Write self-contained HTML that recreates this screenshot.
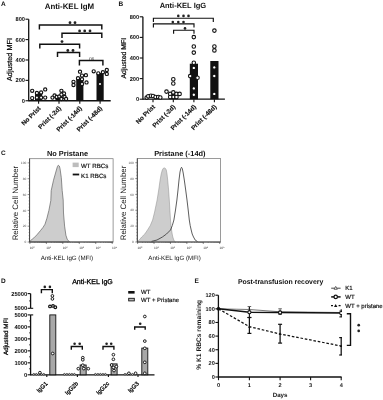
<!DOCTYPE html>
<html><head><meta charset="utf-8"><style>
html,body{margin:0;padding:0;background:#fff;width:383px;height:400px;overflow:hidden}
svg{display:block}
text{font-family:"Liberation Sans", Arial, Helvetica, sans-serif;text-rendering:geometricPrecision}
</style></head><body>
<svg width="383" height="400" viewBox="0 0 383 400">
<rect width="383" height="400" fill="#fff"/>
<text x="0.90" y="5.75" font-size="6.5" text-anchor="start" font-weight="bold" fill="#111" >A</text>
<text x="118.40" y="5.75" font-size="6.5" text-anchor="start" font-weight="bold" fill="#111" >B</text>
<text x="0.90" y="154.90" font-size="6.5" text-anchor="start" font-weight="bold" fill="#111" >C</text>
<text x="0.90" y="282.60" font-size="6.5" text-anchor="start" font-weight="bold" fill="#111" >D</text>
<text x="194.60" y="282.60" font-size="6.5" text-anchor="start" font-weight="bold" fill="#111" >E</text>
<text x="69.40" y="9.10" font-size="7.9" text-anchor="middle" font-weight="bold" fill="#111" >Anti-KEL IgM</text>
<text x="0.00" y="0.00" font-size="7.3" text-anchor="middle" font-weight="normal" fill="#000" stroke="#000" stroke-width="0.2" transform="translate(11.9,59.5) rotate(-90)">Adjusted MFI</text>
<line x1="28.70" y1="19.20" x2="28.70" y2="101.35" stroke="#111" stroke-width="1.3" />
<line x1="28.70" y1="100.75" x2="110.70" y2="100.75" stroke="#111" stroke-width="1.3" />
<line x1="25.50" y1="100.75" x2="28.70" y2="100.75" stroke="#111" stroke-width="1.1" />
<text x="25.00" y="102.80" font-size="5.7" text-anchor="end" font-weight="bold" fill="#111" >0</text>
<line x1="25.50" y1="80.36" x2="28.70" y2="80.36" stroke="#111" stroke-width="1.1" />
<text x="25.00" y="82.41" font-size="5.7" text-anchor="end" font-weight="bold" fill="#111" >200</text>
<line x1="25.50" y1="59.98" x2="28.70" y2="59.98" stroke="#111" stroke-width="1.1" />
<text x="25.00" y="62.02" font-size="5.7" text-anchor="end" font-weight="bold" fill="#111" >400</text>
<line x1="25.50" y1="39.59" x2="28.70" y2="39.59" stroke="#111" stroke-width="1.1" />
<text x="25.00" y="41.64" font-size="5.7" text-anchor="end" font-weight="bold" fill="#111" >600</text>
<line x1="25.50" y1="19.20" x2="28.70" y2="19.20" stroke="#111" stroke-width="1.1" />
<text x="25.00" y="21.25" font-size="5.7" text-anchor="end" font-weight="bold" fill="#111" >800</text>
<line x1="38.60" y1="100.75" x2="38.60" y2="103.75" stroke="#111" stroke-width="1.1" />
<line x1="59.00" y1="100.75" x2="59.00" y2="103.75" stroke="#111" stroke-width="1.1" />
<line x1="79.80" y1="100.75" x2="79.80" y2="103.75" stroke="#111" stroke-width="1.1" />
<line x1="100.10" y1="100.75" x2="100.10" y2="103.75" stroke="#111" stroke-width="1.1" />
<rect x="35.00" y="92.00" width="7.20" height="8.75" fill="#111" stroke="none" stroke-width="0"/>
<rect x="55.40" y="96.20" width="7.20" height="4.55" fill="#111" stroke="none" stroke-width="0"/>
<rect x="76.20" y="78.80" width="7.20" height="21.95" fill="#111" stroke="none" stroke-width="0"/>
<rect x="96.50" y="73.00" width="7.20" height="27.75" fill="#111" stroke="none" stroke-width="0"/>
<circle cx="32.20" cy="90.80" r="1.6" fill="#fff" stroke="#111" stroke-width="1.15"/>
<circle cx="36.90" cy="92.90" r="1.6" fill="#fff" stroke="#111" stroke-width="1.15"/>
<circle cx="41.10" cy="92.40" r="1.6" fill="#fff" stroke="#111" stroke-width="1.15"/>
<circle cx="45.20" cy="89.40" r="1.6" fill="#fff" stroke="#111" stroke-width="1.15"/>
<circle cx="32.20" cy="98.10" r="1.6" fill="#fff" stroke="#111" stroke-width="1.15"/>
<circle cx="36.90" cy="97.60" r="1.6" fill="#fff" stroke="#111" stroke-width="1.15"/>
<circle cx="41.10" cy="97.60" r="1.6" fill="#fff" stroke="#111" stroke-width="1.15"/>
<circle cx="45.20" cy="97.60" r="1.6" fill="#fff" stroke="#111" stroke-width="1.15"/>
<circle cx="52.50" cy="97.60" r="1.6" fill="#fff" stroke="#111" stroke-width="1.15"/>
<circle cx="54.60" cy="95.50" r="1.6" fill="#fff" stroke="#111" stroke-width="1.15"/>
<circle cx="56.70" cy="97.00" r="1.6" fill="#fff" stroke="#111" stroke-width="1.15"/>
<circle cx="59.30" cy="96.50" r="1.6" fill="#fff" stroke="#111" stroke-width="1.15"/>
<circle cx="61.40" cy="90.80" r="1.6" fill="#fff" stroke="#111" stroke-width="1.15"/>
<circle cx="64.00" cy="93.40" r="1.6" fill="#fff" stroke="#111" stroke-width="1.15"/>
<circle cx="61.40" cy="94.60" r="1.6" fill="#fff" stroke="#111" stroke-width="1.15"/>
<circle cx="61.40" cy="99.00" r="1.6" fill="#fff" stroke="#111" stroke-width="1.15"/>
<circle cx="64.60" cy="97.00" r="1.6" fill="#fff" stroke="#111" stroke-width="1.15"/>
<circle cx="66.10" cy="99.00" r="1.6" fill="#fff" stroke="#111" stroke-width="1.15"/>
<circle cx="80.00" cy="71.70" r="1.6" fill="#fff" stroke="#111" stroke-width="1.15"/>
<circle cx="85.90" cy="75.20" r="1.6" fill="#fff" stroke="#111" stroke-width="1.15"/>
<circle cx="82.00" cy="75.60" r="1.6" fill="#fff" stroke="#111" stroke-width="1.15"/>
<circle cx="78.00" cy="78.20" r="1.6" fill="#fff" stroke="#111" stroke-width="1.15"/>
<circle cx="82.00" cy="79.20" r="1.6" fill="#fff" stroke="#111" stroke-width="1.15"/>
<circle cx="73.50" cy="81.80" r="1.6" fill="#fff" stroke="#111" stroke-width="1.15"/>
<circle cx="86.50" cy="82.40" r="1.6" fill="#fff" stroke="#111" stroke-width="1.15"/>
<circle cx="82.00" cy="84.00" r="1.6" fill="#fff" stroke="#111" stroke-width="1.15"/>
<circle cx="73.50" cy="85.00" r="1.6" fill="#fff" stroke="#111" stroke-width="1.15"/>
<circle cx="93.70" cy="71.30" r="1.6" fill="#fff" stroke="#111" stroke-width="1.15"/>
<circle cx="98.30" cy="73.30" r="1.6" fill="#fff" stroke="#111" stroke-width="1.15"/>
<circle cx="102.90" cy="72.20" r="1.6" fill="#fff" stroke="#111" stroke-width="1.15"/>
<circle cx="106.80" cy="70.00" r="1.6" fill="#fff" stroke="#111" stroke-width="1.15"/>
<circle cx="106.80" cy="73.90" r="1.6" fill="#fff" stroke="#111" stroke-width="1.15"/>
<circle cx="100.00" cy="84.00" r="1.6" fill="#fff" stroke="#111" stroke-width="1.15"/>
<polyline points="39.40,29.60 39.40,25.00 101.80,25.00 101.80,29.60" stroke="#111" stroke-width="1.45" fill="none" />
<circle cx="70.00" cy="22.70" r="1.4" fill="#222" stroke="none" stroke-width="0"/>
<circle cx="75.00" cy="22.70" r="1.4" fill="#222" stroke="none" stroke-width="0"/>
<polyline points="62.00,37.90 62.00,33.20 101.80,33.20 101.80,37.90" stroke="#111" stroke-width="1.45" fill="none" />
<circle cx="79.60" cy="30.90" r="1.4" fill="#222" stroke="none" stroke-width="0"/>
<circle cx="84.70" cy="30.90" r="1.4" fill="#222" stroke="none" stroke-width="0"/>
<circle cx="90.00" cy="30.90" r="1.4" fill="#222" stroke="none" stroke-width="0"/>
<polyline points="39.80,48.50 39.80,44.20 79.60,44.20 79.60,48.50" stroke="#111" stroke-width="1.45" fill="none" />
<circle cx="62.00" cy="41.60" r="1.4" fill="#222" stroke="none" stroke-width="0"/>
<polyline points="57.50,57.00 57.50,52.40 79.60,52.40 79.60,57.00" stroke="#111" stroke-width="1.45" fill="none" />
<circle cx="67.80" cy="50.50" r="1.4" fill="#222" stroke="none" stroke-width="0"/>
<circle cx="73.00" cy="50.50" r="1.4" fill="#222" stroke="none" stroke-width="0"/>
<polyline points="79.40,65.40 79.40,60.50 102.90,60.50 102.90,65.40" stroke="#111" stroke-width="1.45" fill="none" />
<text x="91.70" y="60.00" font-size="4.8" text-anchor="middle" font-weight="normal" fill="#333" >ns</text>
<text x="0.00" y="0.00" font-size="6.3" text-anchor="end" font-weight="bold" fill="#111" stroke="#111" stroke-width="0.15" transform="translate(41.10,108.75) rotate(-45)">No Prist</text>
<text x="0.00" y="0.00" font-size="6.3" text-anchor="end" font-weight="bold" fill="#111" stroke="#111" stroke-width="0.15" transform="translate(61.50,108.75) rotate(-45)">Prist (-2d)</text>
<text x="0.00" y="0.00" font-size="6.3" text-anchor="end" font-weight="bold" fill="#111" stroke="#111" stroke-width="0.15" transform="translate(82.30,108.75) rotate(-45)">Prist (-14d)</text>
<text x="0.00" y="0.00" font-size="6.3" text-anchor="end" font-weight="bold" fill="#111" stroke="#111" stroke-width="0.15" transform="translate(102.60,108.75) rotate(-45)">Prist (-48d)</text>
<text x="182.90" y="7.60" font-size="7.5" text-anchor="middle" font-weight="bold" fill="#111" >Anti-KEL IgG</text>
<text x="0.00" y="0.00" font-size="6.9" text-anchor="middle" font-weight="normal" fill="#000" stroke="#000" stroke-width="0.2" transform="translate(126.0,58.2) rotate(-90)">Adjusted MFI</text>
<line x1="142.90" y1="16.80" x2="142.90" y2="99.80" stroke="#111" stroke-width="1.3" />
<line x1="142.90" y1="99.20" x2="224.90" y2="99.20" stroke="#111" stroke-width="1.3" />
<line x1="139.70" y1="99.20" x2="142.90" y2="99.20" stroke="#111" stroke-width="1.1" />
<text x="139.20" y="101.25" font-size="5.7" text-anchor="end" font-weight="bold" fill="#111" >0</text>
<line x1="139.70" y1="78.60" x2="142.90" y2="78.60" stroke="#111" stroke-width="1.1" />
<text x="139.20" y="80.65" font-size="5.7" text-anchor="end" font-weight="bold" fill="#111" >200</text>
<line x1="139.70" y1="58.00" x2="142.90" y2="58.00" stroke="#111" stroke-width="1.1" />
<text x="139.20" y="60.05" font-size="5.7" text-anchor="end" font-weight="bold" fill="#111" >400</text>
<line x1="139.70" y1="37.40" x2="142.90" y2="37.40" stroke="#111" stroke-width="1.1" />
<text x="139.20" y="39.45" font-size="5.7" text-anchor="end" font-weight="bold" fill="#111" >600</text>
<line x1="139.70" y1="16.80" x2="142.90" y2="16.80" stroke="#111" stroke-width="1.1" />
<text x="139.20" y="18.85" font-size="5.7" text-anchor="end" font-weight="bold" fill="#111" >800</text>
<line x1="153.00" y1="99.20" x2="153.00" y2="102.20" stroke="#111" stroke-width="1.1" />
<line x1="173.30" y1="99.20" x2="173.30" y2="102.20" stroke="#111" stroke-width="1.1" />
<line x1="193.90" y1="99.20" x2="193.90" y2="102.20" stroke="#111" stroke-width="1.1" />
<line x1="214.40" y1="99.20" x2="214.40" y2="102.20" stroke="#111" stroke-width="1.1" />
<rect x="148.90" y="99.00" width="8.20" height="0.20" fill="#111" stroke="none" stroke-width="0"/>
<rect x="169.20" y="93.50" width="8.20" height="5.70" fill="#111" stroke="none" stroke-width="0"/>
<rect x="189.80" y="63.70" width="8.20" height="35.50" fill="#111" stroke="none" stroke-width="0"/>
<rect x="210.30" y="61.00" width="8.20" height="38.20" fill="#111" stroke="none" stroke-width="0"/>
<circle cx="146.70" cy="97.60" r="1.75" fill="#fff" stroke="#111" stroke-width="1.1"/>
<circle cx="148.30" cy="96.20" r="1.75" fill="#fff" stroke="#111" stroke-width="1.1"/>
<circle cx="150.90" cy="95.80" r="1.75" fill="#fff" stroke="#111" stroke-width="1.1"/>
<circle cx="153.00" cy="96.00" r="1.75" fill="#fff" stroke="#111" stroke-width="1.1"/>
<circle cx="155.60" cy="97.00" r="1.75" fill="#fff" stroke="#111" stroke-width="1.1"/>
<circle cx="158.20" cy="97.00" r="1.75" fill="#fff" stroke="#111" stroke-width="1.1"/>
<circle cx="160.30" cy="97.50" r="1.75" fill="#fff" stroke="#111" stroke-width="1.1"/>
<circle cx="173.30" cy="79.30" r="1.75" fill="#fff" stroke="#111" stroke-width="1.1"/>
<circle cx="173.30" cy="83.50" r="1.75" fill="#fff" stroke="#111" stroke-width="1.1"/>
<circle cx="166.50" cy="91.60" r="1.75" fill="#fff" stroke="#111" stroke-width="1.1"/>
<circle cx="170.20" cy="93.90" r="1.75" fill="#fff" stroke="#111" stroke-width="1.1"/>
<circle cx="173.30" cy="92.40" r="1.75" fill="#fff" stroke="#111" stroke-width="1.1"/>
<circle cx="176.50" cy="93.90" r="1.75" fill="#fff" stroke="#111" stroke-width="1.1"/>
<circle cx="179.60" cy="93.90" r="1.75" fill="#fff" stroke="#111" stroke-width="1.1"/>
<circle cx="173.30" cy="97.00" r="1.75" fill="#fff" stroke="#111" stroke-width="1.1"/>
<circle cx="170.20" cy="97.00" r="1.75" fill="#fff" stroke="#111" stroke-width="1.1"/>
<circle cx="176.50" cy="97.00" r="1.75" fill="#fff" stroke="#111" stroke-width="1.1"/>
<circle cx="193.80" cy="37.10" r="1.75" fill="#fff" stroke="#111" stroke-width="1.1"/>
<circle cx="193.80" cy="46.50" r="1.75" fill="#fff" stroke="#111" stroke-width="1.1"/>
<circle cx="193.80" cy="52.60" r="1.75" fill="#fff" stroke="#111" stroke-width="1.1"/>
<circle cx="193.80" cy="62.80" r="1.75" fill="#fff" stroke="#111" stroke-width="1.1"/>
<circle cx="193.80" cy="67.90" r="1.75" fill="#fff" stroke="#111" stroke-width="1.1"/>
<circle cx="190.20" cy="76.10" r="1.75" fill="#fff" stroke="#111" stroke-width="1.1"/>
<circle cx="197.50" cy="77.80" r="1.75" fill="#fff" stroke="#111" stroke-width="1.1"/>
<circle cx="193.80" cy="88.40" r="1.75" fill="#fff" stroke="#111" stroke-width="1.1"/>
<circle cx="193.80" cy="94.80" r="1.75" fill="#fff" stroke="#111" stroke-width="1.1"/>
<circle cx="214.40" cy="30.60" r="1.75" fill="#fff" stroke="#111" stroke-width="1.1"/>
<circle cx="214.40" cy="46.50" r="1.75" fill="#fff" stroke="#111" stroke-width="1.1"/>
<circle cx="214.40" cy="50.40" r="1.75" fill="#fff" stroke="#111" stroke-width="1.1"/>
<circle cx="214.30" cy="67.40" r="1.75" fill="#fff" stroke="#111" stroke-width="1.1"/>
<circle cx="214.30" cy="76.00" r="1.75" fill="#fff" stroke="#111" stroke-width="1.1"/>
<circle cx="214.30" cy="93.90" r="1.75" fill="#fff" stroke="#111" stroke-width="1.1"/>
<polyline points="153.40,22.00 153.40,18.20 213.30,18.20 213.30,22.00" stroke="#111" stroke-width="1.15" fill="none" />
<circle cx="178.30" cy="15.90" r="1.3" fill="#222" stroke="none" stroke-width="0"/>
<circle cx="183.50" cy="15.90" r="1.3" fill="#222" stroke="none" stroke-width="0"/>
<circle cx="188.50" cy="15.90" r="1.3" fill="#222" stroke="none" stroke-width="0"/>
<polyline points="153.40,27.40 153.40,23.90 194.00,23.90 194.00,27.40" stroke="#111" stroke-width="1.15" fill="none" />
<circle cx="172.80" cy="22.10" r="1.3" fill="#222" stroke="none" stroke-width="0"/>
<circle cx="178.30" cy="22.10" r="1.3" fill="#222" stroke="none" stroke-width="0"/>
<circle cx="183.50" cy="22.10" r="1.3" fill="#222" stroke="none" stroke-width="0"/>
<polyline points="173.60,33.70 173.60,30.20 194.00,30.20 194.00,33.70" stroke="#111" stroke-width="1.15" fill="none" />
<circle cx="185.00" cy="28.40" r="1.3" fill="#222" stroke="none" stroke-width="0"/>
<text x="0.00" y="0.00" font-size="6.3" text-anchor="end" font-weight="bold" fill="#111" stroke="#111" stroke-width="0.15" transform="translate(155.50,107.20) rotate(-45)">No Prist</text>
<text x="0.00" y="0.00" font-size="6.3" text-anchor="end" font-weight="bold" fill="#111" stroke="#111" stroke-width="0.15" transform="translate(175.80,107.20) rotate(-45)">Prist (-2d)</text>
<text x="0.00" y="0.00" font-size="6.3" text-anchor="end" font-weight="bold" fill="#111" stroke="#111" stroke-width="0.15" transform="translate(196.40,107.20) rotate(-45)">Prist (-14d)</text>
<text x="0.00" y="0.00" font-size="6.3" text-anchor="end" font-weight="bold" fill="#111" stroke="#111" stroke-width="0.15" transform="translate(216.90,107.20) rotate(-45)">Prist (-48d)</text>
<rect x="29.60" y="158.70" width="83.50" height="83.30" fill="none" stroke="#7a7a7a" stroke-width="0.75"/>
<polygon points="29.70,241.80 30.60,240.50 33.90,237.90 37.10,234.60 40.40,230.70 43.00,227.40 45.00,224.20 46.90,218.30 48.90,210.40 50.80,200.50 51.20,190.60 53.50,180.20 56.10,171.00 57.40,166.60 58.30,165.20 59.30,166.00 60.00,168.40 61.30,177.60 62.20,190.60 63.20,200.00 63.50,213.00 64.60,226.10 65.90,235.20 67.20,239.20 69.10,241.50 69.50,241.80" fill="#cdcdcd" stroke="#5a5a5a" stroke-width="0.65"/>
<line x1="29.60" y1="158.70" x2="29.60" y2="242.00" stroke="#444" stroke-width="1.0" />
<line x1="29.60" y1="242.00" x2="113.10" y2="242.00" stroke="#444" stroke-width="1.0" />
<line x1="27.60" y1="242.00" x2="29.60" y2="242.00" stroke="#444" stroke-width="0.6" />
<text x="26.20" y="243.15" font-size="3.2" text-anchor="end" font-weight="normal" fill="#555" >0</text>
<line x1="28.60" y1="238.84" x2="29.60" y2="238.84" stroke="#444" stroke-width="0.45" />
<line x1="28.60" y1="235.67" x2="29.60" y2="235.67" stroke="#444" stroke-width="0.45" />
<line x1="28.60" y1="232.51" x2="29.60" y2="232.51" stroke="#444" stroke-width="0.45" />
<line x1="28.60" y1="229.34" x2="29.60" y2="229.34" stroke="#444" stroke-width="0.45" />
<line x1="27.60" y1="226.18" x2="29.60" y2="226.18" stroke="#444" stroke-width="0.6" />
<text x="26.20" y="227.33" font-size="3.2" text-anchor="end" font-weight="normal" fill="#555" >20</text>
<line x1="28.60" y1="223.02" x2="29.60" y2="223.02" stroke="#444" stroke-width="0.45" />
<line x1="28.60" y1="219.85" x2="29.60" y2="219.85" stroke="#444" stroke-width="0.45" />
<line x1="28.60" y1="216.69" x2="29.60" y2="216.69" stroke="#444" stroke-width="0.45" />
<line x1="28.60" y1="213.52" x2="29.60" y2="213.52" stroke="#444" stroke-width="0.45" />
<line x1="27.60" y1="210.36" x2="29.60" y2="210.36" stroke="#444" stroke-width="0.6" />
<text x="26.20" y="211.51" font-size="3.2" text-anchor="end" font-weight="normal" fill="#555" >40</text>
<line x1="28.60" y1="207.20" x2="29.60" y2="207.20" stroke="#444" stroke-width="0.45" />
<line x1="28.60" y1="204.03" x2="29.60" y2="204.03" stroke="#444" stroke-width="0.45" />
<line x1="28.60" y1="200.87" x2="29.60" y2="200.87" stroke="#444" stroke-width="0.45" />
<line x1="28.60" y1="197.70" x2="29.60" y2="197.70" stroke="#444" stroke-width="0.45" />
<line x1="27.60" y1="194.54" x2="29.60" y2="194.54" stroke="#444" stroke-width="0.6" />
<text x="26.20" y="195.69" font-size="3.2" text-anchor="end" font-weight="normal" fill="#555" >60</text>
<line x1="28.60" y1="191.38" x2="29.60" y2="191.38" stroke="#444" stroke-width="0.45" />
<line x1="28.60" y1="188.21" x2="29.60" y2="188.21" stroke="#444" stroke-width="0.45" />
<line x1="28.60" y1="185.05" x2="29.60" y2="185.05" stroke="#444" stroke-width="0.45" />
<line x1="28.60" y1="181.88" x2="29.60" y2="181.88" stroke="#444" stroke-width="0.45" />
<line x1="27.60" y1="178.72" x2="29.60" y2="178.72" stroke="#444" stroke-width="0.6" />
<text x="26.20" y="179.87" font-size="3.2" text-anchor="end" font-weight="normal" fill="#555" >80</text>
<line x1="28.60" y1="175.56" x2="29.60" y2="175.56" stroke="#444" stroke-width="0.45" />
<line x1="28.60" y1="172.39" x2="29.60" y2="172.39" stroke="#444" stroke-width="0.45" />
<line x1="28.60" y1="169.23" x2="29.60" y2="169.23" stroke="#444" stroke-width="0.45" />
<line x1="28.60" y1="166.06" x2="29.60" y2="166.06" stroke="#444" stroke-width="0.45" />
<line x1="27.60" y1="162.90" x2="29.60" y2="162.90" stroke="#444" stroke-width="0.6" />
<text x="26.20" y="164.05" font-size="3.2" text-anchor="end" font-weight="normal" fill="#555" >100</text>
<line x1="29.90" y1="242.00" x2="29.90" y2="243.90" stroke="#444" stroke-width="0.7" />
<text x="32.20" y="249.30" font-size="3.2" text-anchor="middle" font-weight="normal" fill="#333" >10<tspan font-size="2.3" dy="-1.6">0</tspan></text>
<line x1="34.85" y1="242.00" x2="34.85" y2="243.00" stroke="#555" stroke-width="0.45" />
<line x1="37.75" y1="242.00" x2="37.75" y2="243.00" stroke="#555" stroke-width="0.45" />
<line x1="39.81" y1="242.00" x2="39.81" y2="243.00" stroke="#555" stroke-width="0.45" />
<line x1="41.41" y1="242.00" x2="41.41" y2="243.00" stroke="#555" stroke-width="0.45" />
<line x1="42.71" y1="242.00" x2="42.71" y2="243.00" stroke="#555" stroke-width="0.45" />
<line x1="43.81" y1="242.00" x2="43.81" y2="243.00" stroke="#555" stroke-width="0.45" />
<line x1="44.76" y1="242.00" x2="44.76" y2="243.00" stroke="#555" stroke-width="0.45" />
<line x1="45.61" y1="242.00" x2="45.61" y2="243.00" stroke="#555" stroke-width="0.45" />
<line x1="46.36" y1="242.00" x2="46.36" y2="243.90" stroke="#444" stroke-width="0.7" />
<text x="48.66" y="249.30" font-size="3.2" text-anchor="middle" font-weight="normal" fill="#333" >10<tspan font-size="2.3" dy="-1.6">1</tspan></text>
<line x1="51.31" y1="242.00" x2="51.31" y2="243.00" stroke="#555" stroke-width="0.45" />
<line x1="54.21" y1="242.00" x2="54.21" y2="243.00" stroke="#555" stroke-width="0.45" />
<line x1="56.27" y1="242.00" x2="56.27" y2="243.00" stroke="#555" stroke-width="0.45" />
<line x1="57.87" y1="242.00" x2="57.87" y2="243.00" stroke="#555" stroke-width="0.45" />
<line x1="59.17" y1="242.00" x2="59.17" y2="243.00" stroke="#555" stroke-width="0.45" />
<line x1="60.27" y1="242.00" x2="60.27" y2="243.00" stroke="#555" stroke-width="0.45" />
<line x1="61.22" y1="242.00" x2="61.22" y2="243.00" stroke="#555" stroke-width="0.45" />
<line x1="62.07" y1="242.00" x2="62.07" y2="243.00" stroke="#555" stroke-width="0.45" />
<line x1="62.82" y1="242.00" x2="62.82" y2="243.90" stroke="#444" stroke-width="0.7" />
<text x="65.12" y="249.30" font-size="3.2" text-anchor="middle" font-weight="normal" fill="#333" >10<tspan font-size="2.3" dy="-1.6">2</tspan></text>
<line x1="67.77" y1="242.00" x2="67.77" y2="243.00" stroke="#555" stroke-width="0.45" />
<line x1="70.67" y1="242.00" x2="70.67" y2="243.00" stroke="#555" stroke-width="0.45" />
<line x1="72.73" y1="242.00" x2="72.73" y2="243.00" stroke="#555" stroke-width="0.45" />
<line x1="74.33" y1="242.00" x2="74.33" y2="243.00" stroke="#555" stroke-width="0.45" />
<line x1="75.63" y1="242.00" x2="75.63" y2="243.00" stroke="#555" stroke-width="0.45" />
<line x1="76.73" y1="242.00" x2="76.73" y2="243.00" stroke="#555" stroke-width="0.45" />
<line x1="77.68" y1="242.00" x2="77.68" y2="243.00" stroke="#555" stroke-width="0.45" />
<line x1="78.53" y1="242.00" x2="78.53" y2="243.00" stroke="#555" stroke-width="0.45" />
<line x1="79.28" y1="242.00" x2="79.28" y2="243.90" stroke="#444" stroke-width="0.7" />
<text x="81.58" y="249.30" font-size="3.2" text-anchor="middle" font-weight="normal" fill="#333" >10<tspan font-size="2.3" dy="-1.6">3</tspan></text>
<line x1="84.23" y1="242.00" x2="84.23" y2="243.00" stroke="#555" stroke-width="0.45" />
<line x1="87.13" y1="242.00" x2="87.13" y2="243.00" stroke="#555" stroke-width="0.45" />
<line x1="89.19" y1="242.00" x2="89.19" y2="243.00" stroke="#555" stroke-width="0.45" />
<line x1="90.79" y1="242.00" x2="90.79" y2="243.00" stroke="#555" stroke-width="0.45" />
<line x1="92.09" y1="242.00" x2="92.09" y2="243.00" stroke="#555" stroke-width="0.45" />
<line x1="93.19" y1="242.00" x2="93.19" y2="243.00" stroke="#555" stroke-width="0.45" />
<line x1="94.14" y1="242.00" x2="94.14" y2="243.00" stroke="#555" stroke-width="0.45" />
<line x1="94.99" y1="242.00" x2="94.99" y2="243.00" stroke="#555" stroke-width="0.45" />
<line x1="95.74" y1="242.00" x2="95.74" y2="243.90" stroke="#444" stroke-width="0.7" />
<text x="98.04" y="249.30" font-size="3.2" text-anchor="middle" font-weight="normal" fill="#333" >10<tspan font-size="2.3" dy="-1.6">4</tspan></text>
<line x1="100.69" y1="242.00" x2="100.69" y2="243.00" stroke="#555" stroke-width="0.45" />
<line x1="103.59" y1="242.00" x2="103.59" y2="243.00" stroke="#555" stroke-width="0.45" />
<line x1="105.65" y1="242.00" x2="105.65" y2="243.00" stroke="#555" stroke-width="0.45" />
<line x1="107.25" y1="242.00" x2="107.25" y2="243.00" stroke="#555" stroke-width="0.45" />
<line x1="108.55" y1="242.00" x2="108.55" y2="243.00" stroke="#555" stroke-width="0.45" />
<line x1="109.65" y1="242.00" x2="109.65" y2="243.00" stroke="#555" stroke-width="0.45" />
<line x1="110.60" y1="242.00" x2="110.60" y2="243.00" stroke="#555" stroke-width="0.45" />
<line x1="111.45" y1="242.00" x2="111.45" y2="243.00" stroke="#555" stroke-width="0.45" />
<line x1="112.20" y1="242.00" x2="112.20" y2="243.90" stroke="#444" stroke-width="0.7" />
<text x="114.50" y="249.30" font-size="3.2" text-anchor="middle" font-weight="normal" fill="#333" >10<tspan font-size="2.3" dy="-1.6">5</tspan></text>
<text x="67.50" y="155.60" font-size="7.4" text-anchor="middle" font-weight="bold" fill="#111" >No Pristane</text>
<text x="0.00" y="0.00" font-size="7.9" text-anchor="middle" font-weight="normal" fill="#222" transform="translate(18.20,203.05) rotate(-90)">Relative Cell Number</text>
<text x="66.95" y="259.70" font-size="6.2" text-anchor="middle" font-weight="normal" fill="#111" >Anti-KEL IgG (MFI)</text>
<rect x="72.60" y="162.60" width="6.10" height="4.50" fill="#bdbdbd" stroke="none" stroke-width="0"/>
<text x="81.00" y="167.60" font-size="6.2" text-anchor="start" font-weight="normal" fill="#111" stroke="#111" stroke-width="0.18">WT RBCs</text>
<line x1="72.70" y1="174.50" x2="79.20" y2="174.50" stroke="#111" stroke-width="1.8" />
<text x="81.00" y="178.00" font-size="6.2" text-anchor="start" font-weight="normal" fill="#111" stroke="#111" stroke-width="0.18">K1 RBCs</text>
<rect x="137.30" y="158.50" width="83.30" height="83.50" fill="none" stroke="#7a7a7a" stroke-width="0.75"/>
<polygon points="137.30,241.80 139.00,240.20 141.70,237.00 144.80,234.00 147.50,230.00 150.30,225.50 152.60,220.00 154.60,212.00 157.10,200.00 158.70,190.00 160.10,180.00 161.20,174.00 162.30,170.00 163.40,168.20 164.40,167.90 165.40,168.40 166.30,170.00 167.00,174.00 167.70,180.00 168.60,190.00 169.30,200.00 169.90,210.00 170.50,220.00 171.00,225.50 171.60,230.00 172.20,234.00 172.80,237.00 173.80,240.00 175.00,241.80" fill="#cdcdcd" stroke="#8a8a8a" stroke-width="0.5"/>
<polyline points="151.50,241.40 157.00,240.00 162.40,237.00 166.50,234.00 170.50,230.00 172.30,225.50 173.90,220.00 175.50,210.00 176.90,200.00 178.00,190.00 179.00,180.00 180.00,172.00 180.80,168.60 181.50,167.30 182.30,168.60 183.20,173.00 184.30,180.00 185.70,190.00 187.00,200.00 188.20,210.00 189.30,220.00 190.20,225.50 191.20,230.00 192.20,234.00 193.50,237.00 195.30,240.20 197.50,241.50" stroke="#333" stroke-width="0.8" fill="none" />
<line x1="137.30" y1="158.50" x2="137.30" y2="242.00" stroke="#444" stroke-width="1.0" />
<line x1="137.30" y1="242.00" x2="220.60" y2="242.00" stroke="#444" stroke-width="1.0" />
<line x1="135.30" y1="242.00" x2="137.30" y2="242.00" stroke="#444" stroke-width="0.6" />
<text x="133.90" y="243.15" font-size="3.2" text-anchor="end" font-weight="normal" fill="#555" >0</text>
<line x1="136.30" y1="238.83" x2="137.30" y2="238.83" stroke="#444" stroke-width="0.45" />
<line x1="136.30" y1="235.66" x2="137.30" y2="235.66" stroke="#444" stroke-width="0.45" />
<line x1="136.30" y1="232.48" x2="137.30" y2="232.48" stroke="#444" stroke-width="0.45" />
<line x1="136.30" y1="229.31" x2="137.30" y2="229.31" stroke="#444" stroke-width="0.45" />
<line x1="135.30" y1="226.14" x2="137.30" y2="226.14" stroke="#444" stroke-width="0.6" />
<text x="133.90" y="227.29" font-size="3.2" text-anchor="end" font-weight="normal" fill="#555" >20</text>
<line x1="136.30" y1="222.97" x2="137.30" y2="222.97" stroke="#444" stroke-width="0.45" />
<line x1="136.30" y1="219.80" x2="137.30" y2="219.80" stroke="#444" stroke-width="0.45" />
<line x1="136.30" y1="216.62" x2="137.30" y2="216.62" stroke="#444" stroke-width="0.45" />
<line x1="136.30" y1="213.45" x2="137.30" y2="213.45" stroke="#444" stroke-width="0.45" />
<line x1="135.30" y1="210.28" x2="137.30" y2="210.28" stroke="#444" stroke-width="0.6" />
<text x="133.90" y="211.43" font-size="3.2" text-anchor="end" font-weight="normal" fill="#555" >40</text>
<line x1="136.30" y1="207.11" x2="137.30" y2="207.11" stroke="#444" stroke-width="0.45" />
<line x1="136.30" y1="203.94" x2="137.30" y2="203.94" stroke="#444" stroke-width="0.45" />
<line x1="136.30" y1="200.76" x2="137.30" y2="200.76" stroke="#444" stroke-width="0.45" />
<line x1="136.30" y1="197.59" x2="137.30" y2="197.59" stroke="#444" stroke-width="0.45" />
<line x1="135.30" y1="194.42" x2="137.30" y2="194.42" stroke="#444" stroke-width="0.6" />
<text x="133.90" y="195.57" font-size="3.2" text-anchor="end" font-weight="normal" fill="#555" >60</text>
<line x1="136.30" y1="191.25" x2="137.30" y2="191.25" stroke="#444" stroke-width="0.45" />
<line x1="136.30" y1="188.08" x2="137.30" y2="188.08" stroke="#444" stroke-width="0.45" />
<line x1="136.30" y1="184.90" x2="137.30" y2="184.90" stroke="#444" stroke-width="0.45" />
<line x1="136.30" y1="181.73" x2="137.30" y2="181.73" stroke="#444" stroke-width="0.45" />
<line x1="135.30" y1="178.56" x2="137.30" y2="178.56" stroke="#444" stroke-width="0.6" />
<text x="133.90" y="179.71" font-size="3.2" text-anchor="end" font-weight="normal" fill="#555" >80</text>
<line x1="136.30" y1="175.39" x2="137.30" y2="175.39" stroke="#444" stroke-width="0.45" />
<line x1="136.30" y1="172.22" x2="137.30" y2="172.22" stroke="#444" stroke-width="0.45" />
<line x1="136.30" y1="169.04" x2="137.30" y2="169.04" stroke="#444" stroke-width="0.45" />
<line x1="136.30" y1="165.87" x2="137.30" y2="165.87" stroke="#444" stroke-width="0.45" />
<line x1="135.30" y1="162.70" x2="137.30" y2="162.70" stroke="#444" stroke-width="0.6" />
<text x="133.90" y="163.85" font-size="3.2" text-anchor="end" font-weight="normal" fill="#555" >100</text>
<line x1="137.60" y1="242.00" x2="137.60" y2="243.90" stroke="#444" stroke-width="0.7" />
<text x="139.90" y="249.30" font-size="3.2" text-anchor="middle" font-weight="normal" fill="#333" >10<tspan font-size="2.3" dy="-1.6">0</tspan></text>
<line x1="142.54" y1="242.00" x2="142.54" y2="243.00" stroke="#555" stroke-width="0.45" />
<line x1="145.43" y1="242.00" x2="145.43" y2="243.00" stroke="#555" stroke-width="0.45" />
<line x1="147.49" y1="242.00" x2="147.49" y2="243.00" stroke="#555" stroke-width="0.45" />
<line x1="149.08" y1="242.00" x2="149.08" y2="243.00" stroke="#555" stroke-width="0.45" />
<line x1="150.38" y1="242.00" x2="150.38" y2="243.00" stroke="#555" stroke-width="0.45" />
<line x1="151.48" y1="242.00" x2="151.48" y2="243.00" stroke="#555" stroke-width="0.45" />
<line x1="152.43" y1="242.00" x2="152.43" y2="243.00" stroke="#555" stroke-width="0.45" />
<line x1="153.27" y1="242.00" x2="153.27" y2="243.00" stroke="#555" stroke-width="0.45" />
<line x1="154.02" y1="242.00" x2="154.02" y2="243.90" stroke="#444" stroke-width="0.7" />
<text x="156.32" y="249.30" font-size="3.2" text-anchor="middle" font-weight="normal" fill="#333" >10<tspan font-size="2.3" dy="-1.6">1</tspan></text>
<line x1="158.96" y1="242.00" x2="158.96" y2="243.00" stroke="#555" stroke-width="0.45" />
<line x1="161.85" y1="242.00" x2="161.85" y2="243.00" stroke="#555" stroke-width="0.45" />
<line x1="163.91" y1="242.00" x2="163.91" y2="243.00" stroke="#555" stroke-width="0.45" />
<line x1="165.50" y1="242.00" x2="165.50" y2="243.00" stroke="#555" stroke-width="0.45" />
<line x1="166.80" y1="242.00" x2="166.80" y2="243.00" stroke="#555" stroke-width="0.45" />
<line x1="167.90" y1="242.00" x2="167.90" y2="243.00" stroke="#555" stroke-width="0.45" />
<line x1="168.85" y1="242.00" x2="168.85" y2="243.00" stroke="#555" stroke-width="0.45" />
<line x1="169.69" y1="242.00" x2="169.69" y2="243.00" stroke="#555" stroke-width="0.45" />
<line x1="170.44" y1="242.00" x2="170.44" y2="243.90" stroke="#444" stroke-width="0.7" />
<text x="172.74" y="249.30" font-size="3.2" text-anchor="middle" font-weight="normal" fill="#333" >10<tspan font-size="2.3" dy="-1.6">2</tspan></text>
<line x1="175.38" y1="242.00" x2="175.38" y2="243.00" stroke="#555" stroke-width="0.45" />
<line x1="178.27" y1="242.00" x2="178.27" y2="243.00" stroke="#555" stroke-width="0.45" />
<line x1="180.33" y1="242.00" x2="180.33" y2="243.00" stroke="#555" stroke-width="0.45" />
<line x1="181.92" y1="242.00" x2="181.92" y2="243.00" stroke="#555" stroke-width="0.45" />
<line x1="183.22" y1="242.00" x2="183.22" y2="243.00" stroke="#555" stroke-width="0.45" />
<line x1="184.32" y1="242.00" x2="184.32" y2="243.00" stroke="#555" stroke-width="0.45" />
<line x1="185.27" y1="242.00" x2="185.27" y2="243.00" stroke="#555" stroke-width="0.45" />
<line x1="186.11" y1="242.00" x2="186.11" y2="243.00" stroke="#555" stroke-width="0.45" />
<line x1="186.86" y1="242.00" x2="186.86" y2="243.90" stroke="#444" stroke-width="0.7" />
<text x="189.16" y="249.30" font-size="3.2" text-anchor="middle" font-weight="normal" fill="#333" >10<tspan font-size="2.3" dy="-1.6">3</tspan></text>
<line x1="191.80" y1="242.00" x2="191.80" y2="243.00" stroke="#555" stroke-width="0.45" />
<line x1="194.69" y1="242.00" x2="194.69" y2="243.00" stroke="#555" stroke-width="0.45" />
<line x1="196.75" y1="242.00" x2="196.75" y2="243.00" stroke="#555" stroke-width="0.45" />
<line x1="198.34" y1="242.00" x2="198.34" y2="243.00" stroke="#555" stroke-width="0.45" />
<line x1="199.64" y1="242.00" x2="199.64" y2="243.00" stroke="#555" stroke-width="0.45" />
<line x1="200.74" y1="242.00" x2="200.74" y2="243.00" stroke="#555" stroke-width="0.45" />
<line x1="201.69" y1="242.00" x2="201.69" y2="243.00" stroke="#555" stroke-width="0.45" />
<line x1="202.53" y1="242.00" x2="202.53" y2="243.00" stroke="#555" stroke-width="0.45" />
<line x1="203.28" y1="242.00" x2="203.28" y2="243.90" stroke="#444" stroke-width="0.7" />
<text x="205.58" y="249.30" font-size="3.2" text-anchor="middle" font-weight="normal" fill="#333" >10<tspan font-size="2.3" dy="-1.6">4</tspan></text>
<line x1="208.22" y1="242.00" x2="208.22" y2="243.00" stroke="#555" stroke-width="0.45" />
<line x1="211.11" y1="242.00" x2="211.11" y2="243.00" stroke="#555" stroke-width="0.45" />
<line x1="213.17" y1="242.00" x2="213.17" y2="243.00" stroke="#555" stroke-width="0.45" />
<line x1="214.76" y1="242.00" x2="214.76" y2="243.00" stroke="#555" stroke-width="0.45" />
<line x1="216.06" y1="242.00" x2="216.06" y2="243.00" stroke="#555" stroke-width="0.45" />
<line x1="217.16" y1="242.00" x2="217.16" y2="243.00" stroke="#555" stroke-width="0.45" />
<line x1="218.11" y1="242.00" x2="218.11" y2="243.00" stroke="#555" stroke-width="0.45" />
<line x1="218.95" y1="242.00" x2="218.95" y2="243.00" stroke="#555" stroke-width="0.45" />
<line x1="219.70" y1="242.00" x2="219.70" y2="243.90" stroke="#444" stroke-width="0.7" />
<text x="222.00" y="249.30" font-size="3.2" text-anchor="middle" font-weight="normal" fill="#333" >10<tspan font-size="2.3" dy="-1.6">5</tspan></text>
<text x="179.80" y="155.60" font-size="7.4" text-anchor="middle" font-weight="bold" fill="#111" >Pristane (-14d)</text>
<text x="0.00" y="0.00" font-size="7.9" text-anchor="middle" font-weight="normal" fill="#222" transform="translate(125.90,202.95) rotate(-90)">Relative Cell Number</text>
<text x="174.55" y="259.70" font-size="6.2" text-anchor="middle" font-weight="normal" fill="#111" >Anti-KEL IgG (MFI)</text>
<text x="92.50" y="284.40" font-size="7.0" text-anchor="middle" font-weight="normal" fill="#000" stroke="#000" stroke-width="0.3">Anti-KEL IgG</text>
<text x="0.00" y="0.00" font-size="6.3" text-anchor="middle" font-weight="normal" fill="#000" stroke="#000" stroke-width="0.25" transform="translate(7.9,336.5) rotate(-90)">Adjusted MFI</text>
<line x1="30.60" y1="314.90" x2="30.60" y2="375.40" stroke="#111" stroke-width="1.3" />
<line x1="30.60" y1="374.80" x2="154.50" y2="374.80" stroke="#111" stroke-width="1.3" />
<line x1="27.60" y1="374.80" x2="30.60" y2="374.80" stroke="#111" stroke-width="1.1" />
<text x="27.30" y="376.85" font-size="5.8" text-anchor="end" font-weight="bold" fill="#111" >0</text>
<line x1="29.10" y1="368.81" x2="30.60" y2="368.81" stroke="#111" stroke-width="0.8" />
<line x1="27.60" y1="362.82" x2="30.60" y2="362.82" stroke="#111" stroke-width="1.1" />
<text x="27.30" y="364.87" font-size="5.8" text-anchor="end" font-weight="bold" fill="#111" >1000</text>
<line x1="29.10" y1="356.83" x2="30.60" y2="356.83" stroke="#111" stroke-width="0.8" />
<line x1="27.60" y1="350.84" x2="30.60" y2="350.84" stroke="#111" stroke-width="1.1" />
<text x="27.30" y="352.89" font-size="5.8" text-anchor="end" font-weight="bold" fill="#111" >2000</text>
<line x1="29.10" y1="344.85" x2="30.60" y2="344.85" stroke="#111" stroke-width="0.8" />
<line x1="27.60" y1="338.86" x2="30.60" y2="338.86" stroke="#111" stroke-width="1.1" />
<text x="27.30" y="340.91" font-size="5.8" text-anchor="end" font-weight="bold" fill="#111" >3000</text>
<line x1="29.10" y1="332.87" x2="30.60" y2="332.87" stroke="#111" stroke-width="0.8" />
<line x1="27.60" y1="326.88" x2="30.60" y2="326.88" stroke="#111" stroke-width="1.1" />
<text x="27.30" y="328.93" font-size="5.8" text-anchor="end" font-weight="bold" fill="#111" >4000</text>
<line x1="29.10" y1="320.89" x2="30.60" y2="320.89" stroke="#111" stroke-width="0.8" />
<line x1="27.60" y1="314.90" x2="30.60" y2="314.90" stroke="#111" stroke-width="1.1" />
<text x="27.30" y="316.95" font-size="5.8" text-anchor="end" font-weight="bold" fill="#111" >5000</text>
<line x1="30.60" y1="293.60" x2="30.60" y2="308.30" stroke="#111" stroke-width="1.3" />
<line x1="27.60" y1="293.60" x2="30.60" y2="293.60" stroke="#111" stroke-width="1.1" />
<text x="27.30" y="295.65" font-size="5.8" text-anchor="end" font-weight="bold" fill="#111" >25000</text>
<line x1="27.60" y1="308.30" x2="30.60" y2="308.30" stroke="#111" stroke-width="1.1" />
<text x="27.30" y="310.35" font-size="5.8" text-anchor="end" font-weight="bold" fill="#111" >5000</text>
<line x1="29.10" y1="300.90" x2="30.60" y2="300.90" stroke="#111" stroke-width="0.8" />
<line x1="30.60" y1="308.30" x2="33.20" y2="308.30" stroke="#111" stroke-width="1.1" />
<line x1="30.60" y1="314.90" x2="33.20" y2="314.90" stroke="#111" stroke-width="1.1" />
<line x1="46.80" y1="374.80" x2="46.80" y2="377.00" stroke="#111" stroke-width="1.1" />
<line x1="77.40" y1="374.80" x2="77.40" y2="377.00" stroke="#111" stroke-width="1.1" />
<line x1="108.40" y1="374.80" x2="108.40" y2="377.00" stroke="#111" stroke-width="1.1" />
<line x1="138.00" y1="374.80" x2="138.00" y2="377.00" stroke="#111" stroke-width="1.1" />
<circle cx="33.80" cy="374.30" r="0.9" fill="#fff" stroke="#111" stroke-width="0.7"/>
<circle cx="36.30" cy="374.30" r="0.9" fill="#fff" stroke="#111" stroke-width="0.7"/>
<circle cx="38.80" cy="374.30" r="0.9" fill="#fff" stroke="#111" stroke-width="0.7"/>
<circle cx="41.30" cy="374.30" r="0.9" fill="#fff" stroke="#111" stroke-width="0.7"/>
<circle cx="43.80" cy="374.30" r="0.9" fill="#fff" stroke="#111" stroke-width="0.7"/>
<circle cx="64.40" cy="374.30" r="0.9" fill="#fff" stroke="#111" stroke-width="0.7"/>
<circle cx="66.90" cy="374.30" r="0.9" fill="#fff" stroke="#111" stroke-width="0.7"/>
<circle cx="69.40" cy="374.30" r="0.9" fill="#fff" stroke="#111" stroke-width="0.7"/>
<circle cx="71.90" cy="374.30" r="0.9" fill="#fff" stroke="#111" stroke-width="0.7"/>
<circle cx="74.40" cy="374.30" r="0.9" fill="#fff" stroke="#111" stroke-width="0.7"/>
<circle cx="95.40" cy="374.30" r="0.9" fill="#fff" stroke="#111" stroke-width="0.7"/>
<circle cx="97.90" cy="374.30" r="0.9" fill="#fff" stroke="#111" stroke-width="0.7"/>
<circle cx="100.40" cy="374.30" r="0.9" fill="#fff" stroke="#111" stroke-width="0.7"/>
<circle cx="102.90" cy="374.30" r="0.9" fill="#fff" stroke="#111" stroke-width="0.7"/>
<circle cx="105.40" cy="374.30" r="0.9" fill="#fff" stroke="#111" stroke-width="0.7"/>
<circle cx="125.00" cy="374.30" r="0.9" fill="#fff" stroke="#111" stroke-width="0.7"/>
<circle cx="127.50" cy="374.30" r="0.9" fill="#fff" stroke="#111" stroke-width="0.7"/>
<circle cx="130.00" cy="374.30" r="0.9" fill="#fff" stroke="#111" stroke-width="0.7"/>
<circle cx="132.50" cy="374.30" r="0.9" fill="#fff" stroke="#111" stroke-width="0.7"/>
<circle cx="135.00" cy="374.30" r="0.9" fill="#fff" stroke="#111" stroke-width="0.7"/>
<rect x="49.80" y="314.90" width="6.00" height="59.90" fill="#a8a8a8" stroke="#111" stroke-width="0.9"/>
<rect x="80.15" y="365.00" width="6.00" height="9.80" fill="#a8a8a8" stroke="#111" stroke-width="0.9"/>
<rect x="111.10" y="363.90" width="6.00" height="10.90" fill="#a8a8a8" stroke="#111" stroke-width="0.9"/>
<rect x="141.80" y="348.10" width="6.00" height="26.70" fill="#a8a8a8" stroke="#111" stroke-width="0.9"/>
<circle cx="52.70" cy="353.50" r="1.35" fill="#fff" stroke="#111" stroke-width="0.95"/>
<circle cx="52.40" cy="295.90" r="1.35" fill="#fff" stroke="#111" stroke-width="0.95"/>
<circle cx="52.40" cy="298.90" r="1.35" fill="#fff" stroke="#111" stroke-width="0.95"/>
<circle cx="39.90" cy="372.70" r="1.35" fill="#fff" stroke="#111" stroke-width="0.95"/>
<circle cx="82.80" cy="357.70" r="1.35" fill="#fff" stroke="#111" stroke-width="0.95"/>
<circle cx="82.80" cy="359.80" r="1.35" fill="#fff" stroke="#111" stroke-width="0.95"/>
<circle cx="78.30" cy="368.70" r="1.35" fill="#fff" stroke="#111" stroke-width="0.95"/>
<circle cx="88.30" cy="368.70" r="1.35" fill="#fff" stroke="#111" stroke-width="0.95"/>
<circle cx="82.80" cy="365.20" r="1.35" fill="#fff" stroke="#111" stroke-width="0.95"/>
<circle cx="83.80" cy="368.60" r="1.35" fill="#fff" stroke="#111" stroke-width="0.95"/>
<circle cx="113.40" cy="354.70" r="1.35" fill="#fff" stroke="#111" stroke-width="0.95"/>
<circle cx="113.40" cy="359.30" r="1.35" fill="#fff" stroke="#111" stroke-width="0.95"/>
<circle cx="113.40" cy="367.50" r="1.35" fill="#fff" stroke="#111" stroke-width="0.95"/>
<circle cx="116.40" cy="366.60" r="1.35" fill="#fff" stroke="#111" stroke-width="0.95"/>
<circle cx="111.60" cy="365.00" r="1.35" fill="#fff" stroke="#111" stroke-width="0.95"/>
<circle cx="114.00" cy="370.60" r="1.35" fill="#fff" stroke="#111" stroke-width="0.95"/>
<circle cx="144.80" cy="316.50" r="1.35" fill="#fff" stroke="#111" stroke-width="0.95"/>
<circle cx="144.80" cy="341.10" r="1.35" fill="#fff" stroke="#111" stroke-width="0.95"/>
<circle cx="144.80" cy="348.30" r="1.35" fill="#fff" stroke="#111" stroke-width="0.95"/>
<circle cx="144.80" cy="362.30" r="1.35" fill="#fff" stroke="#111" stroke-width="0.95"/>
<circle cx="144.80" cy="373.30" r="1.35" fill="#fff" stroke="#111" stroke-width="0.95"/>
<circle cx="128.90" cy="373.30" r="1.35" fill="#fff" stroke="#111" stroke-width="0.95"/>
<circle cx="135.60" cy="373.30" r="1.35" fill="#fff" stroke="#111" stroke-width="0.95"/>
<circle cx="50.00" cy="306.40" r="1.35" fill="#fff" stroke="#111" stroke-width="1.2"/>
<circle cx="53.00" cy="305.90" r="1.35" fill="#fff" stroke="#111" stroke-width="1.2"/>
<circle cx="55.30" cy="307.20" r="1.35" fill="#fff" stroke="#111" stroke-width="1.2"/>
<polyline points="41.40,293.30 41.40,289.60 52.30,289.60 52.30,293.30" stroke="#111" stroke-width="1.4" fill="none" />
<circle cx="44.80" cy="286.90" r="1.3" fill="#222" stroke="none" stroke-width="0"/>
<circle cx="49.90" cy="286.90" r="1.3" fill="#222" stroke="none" stroke-width="0"/>
<polyline points="71.30,349.80 71.30,346.50 82.30,346.50 82.30,349.80" stroke="#111" stroke-width="1.4" fill="none" />
<circle cx="74.60" cy="343.80" r="1.3" fill="#222" stroke="none" stroke-width="0"/>
<circle cx="79.70" cy="343.80" r="1.3" fill="#222" stroke="none" stroke-width="0"/>
<polyline points="103.00,349.80 103.00,346.50 113.90,346.50 113.90,349.80" stroke="#111" stroke-width="1.4" fill="none" />
<circle cx="106.60" cy="343.80" r="1.3" fill="#222" stroke="none" stroke-width="0"/>
<circle cx="111.20" cy="343.80" r="1.3" fill="#222" stroke="none" stroke-width="0"/>
<polyline points="134.70,329.80 134.70,327.00 145.20,327.00 145.20,329.80" stroke="#111" stroke-width="1.4" fill="none" />
<circle cx="140.20" cy="323.80" r="1.3" fill="#222" stroke="none" stroke-width="0"/>
<rect x="128.20" y="291.00" width="6.40" height="2.60" fill="#111" stroke="none" stroke-width="0"/>
<text x="141.00" y="294.40" font-size="6.0" text-anchor="start" font-weight="normal" fill="#1a1a1a" stroke="#111" stroke-width="0.18">WT</text>
<rect x="128.70" y="298.30" width="5.60" height="2.60" fill="#bbb" stroke="#111" stroke-width="0.9"/>
<text x="141.00" y="301.90" font-size="6.0" text-anchor="start" font-weight="normal" fill="#1a1a1a" stroke="#111" stroke-width="0.18">WT + Pristane</text>
<text x="0.00" y="0.00" font-size="5.9" text-anchor="end" font-weight="normal" fill="#000" stroke="#000" stroke-width="0.25" transform="translate(48.00,384.00) rotate(-45)">IgG1</text>
<text x="0.00" y="0.00" font-size="5.9" text-anchor="end" font-weight="normal" fill="#000" stroke="#000" stroke-width="0.25" transform="translate(78.60,384.00) rotate(-45)">IgG2b</text>
<text x="0.00" y="0.00" font-size="5.9" text-anchor="end" font-weight="normal" fill="#000" stroke="#000" stroke-width="0.25" transform="translate(109.60,384.00) rotate(-45)">IgG2c</text>
<text x="0.00" y="0.00" font-size="5.9" text-anchor="end" font-weight="normal" fill="#000" stroke="#000" stroke-width="0.25" transform="translate(139.20,384.00) rotate(-45)">IgG3</text>
<text x="280.60" y="283.90" font-size="6.9" text-anchor="middle" font-weight="bold" fill="#111" >Post-transfusion recovery</text>
<text x="0.00" y="0.00" font-size="6.65" text-anchor="middle" font-weight="bold" fill="#1a1a1a" transform="translate(200.7,334.8) rotate(-90)">% K1 RBCs remaining</text>
<line x1="218.40" y1="295.20" x2="218.40" y2="377.60" stroke="#111" stroke-width="1.3" />
<line x1="218.40" y1="377.00" x2="341.60" y2="377.00" stroke="#111" stroke-width="1.3" />
<line x1="215.40" y1="377.00" x2="218.40" y2="377.00" stroke="#111" stroke-width="1.1" />
<text x="214.80" y="379.00" font-size="5.6" text-anchor="end" font-weight="bold" fill="#111" >0</text>
<line x1="215.40" y1="363.37" x2="218.40" y2="363.37" stroke="#111" stroke-width="1.1" />
<text x="214.80" y="365.37" font-size="5.6" text-anchor="end" font-weight="bold" fill="#111" >20</text>
<line x1="215.40" y1="349.73" x2="218.40" y2="349.73" stroke="#111" stroke-width="1.1" />
<text x="214.80" y="351.73" font-size="5.6" text-anchor="end" font-weight="bold" fill="#111" >40</text>
<line x1="215.40" y1="336.10" x2="218.40" y2="336.10" stroke="#111" stroke-width="1.1" />
<text x="214.80" y="338.10" font-size="5.6" text-anchor="end" font-weight="bold" fill="#111" >60</text>
<line x1="215.40" y1="322.47" x2="218.40" y2="322.47" stroke="#111" stroke-width="1.1" />
<text x="214.80" y="324.47" font-size="5.6" text-anchor="end" font-weight="bold" fill="#111" >80</text>
<line x1="215.40" y1="308.83" x2="218.40" y2="308.83" stroke="#111" stroke-width="1.1" />
<text x="214.80" y="310.83" font-size="5.6" text-anchor="end" font-weight="bold" fill="#111" >100</text>
<line x1="215.40" y1="295.20" x2="218.40" y2="295.20" stroke="#111" stroke-width="1.1" />
<text x="214.80" y="297.20" font-size="5.6" text-anchor="end" font-weight="bold" fill="#111" >120</text>
<line x1="218.50" y1="377.00" x2="218.50" y2="380.20" stroke="#111" stroke-width="1.1" />
<text x="218.50" y="387.40" font-size="5.6" text-anchor="middle" font-weight="bold" fill="#111" >0</text>
<line x1="249.40" y1="377.00" x2="249.40" y2="380.20" stroke="#111" stroke-width="1.1" />
<text x="249.40" y="387.40" font-size="5.6" text-anchor="middle" font-weight="bold" fill="#111" >1</text>
<line x1="280.10" y1="377.00" x2="280.10" y2="380.20" stroke="#111" stroke-width="1.1" />
<text x="280.10" y="387.40" font-size="5.6" text-anchor="middle" font-weight="bold" fill="#111" >2</text>
<line x1="310.60" y1="377.00" x2="310.60" y2="380.20" stroke="#111" stroke-width="1.1" />
<text x="310.60" y="387.40" font-size="5.6" text-anchor="middle" font-weight="bold" fill="#111" >3</text>
<line x1="341.20" y1="377.00" x2="341.20" y2="380.20" stroke="#111" stroke-width="1.1" />
<text x="341.20" y="387.40" font-size="5.6" text-anchor="middle" font-weight="bold" fill="#111" >4</text>
<text x="280.10" y="397.10" font-size="6.2" text-anchor="middle" font-weight="bold" fill="#1a1a1a" >Days</text>
<defs><clipPath id="ce"><rect x="210" y="290" width="131.9" height="90"/></clipPath></defs><g clip-path="url(#ce)">
<polyline points="218.50,308.83 249.40,309.50 280.10,311.80 341.20,312.50" stroke="#666" stroke-width="0.9" fill="none" />
<line x1="249.40" y1="306.50" x2="249.40" y2="312.50" stroke="#555" stroke-width="0.9" />
<line x1="247.60" y1="306.50" x2="251.20" y2="306.50" stroke="#555" stroke-width="0.9" />
<line x1="280.10" y1="308.80" x2="280.10" y2="314.80" stroke="#555" stroke-width="0.9" />
<line x1="278.30" y1="308.80" x2="281.90" y2="308.80" stroke="#555" stroke-width="0.9" />
<line x1="341.20" y1="310.90" x2="341.20" y2="314.10" stroke="#555" stroke-width="0.9" />
<line x1="339.40" y1="310.90" x2="343.00" y2="310.90" stroke="#555" stroke-width="0.9" />
<polygon points="249.40,308.10 248.10,310.40 250.70,310.40" fill="#fff" stroke="#666" stroke-width="0.6"/>
<polygon points="280.10,310.40 278.80,312.70 281.40,312.70" fill="#fff" stroke="#666" stroke-width="0.6"/>
<polygon points="341.20,311.10 339.90,313.40 342.50,313.40" fill="#fff" stroke="#666" stroke-width="0.6"/>
<polyline points="218.50,308.83 249.40,312.30 280.10,312.50 341.20,313.10" stroke="#111" stroke-width="1.5" fill="none" />
<line x1="249.40" y1="307.10" x2="249.40" y2="317.50" stroke="#111" stroke-width="1.1" />
<line x1="247.60" y1="317.50" x2="251.20" y2="317.50" stroke="#111" stroke-width="1.1" />
<line x1="280.10" y1="310.90" x2="280.10" y2="314.10" stroke="#111" stroke-width="1.1" />
<line x1="278.30" y1="314.10" x2="281.90" y2="314.10" stroke="#111" stroke-width="1.1" />
<line x1="341.20" y1="309.30" x2="341.20" y2="316.90" stroke="#111" stroke-width="1.1" />
<line x1="339.40" y1="316.90" x2="343.00" y2="316.90" stroke="#111" stroke-width="1.1" />
<circle cx="249.40" cy="312.30" r="1.6" fill="#fff" stroke="#111" stroke-width="1.1"/>
<circle cx="280.10" cy="312.50" r="1.6" fill="#fff" stroke="#111" stroke-width="1.1"/>
<circle cx="341.20" cy="313.10" r="1.6" fill="#fff" stroke="#111" stroke-width="1.1"/>
<circle cx="218.50" cy="308.83" r="1.5" fill="#111" stroke="#111" stroke-width="0.9"/>
<polyline points="218.50,308.83 249.40,326.70 280.10,334.00 341.20,346.00" stroke="#111" stroke-width="1.25" fill="none" stroke-dasharray="2.6,1.8"/>
<line x1="249.40" y1="317.50" x2="249.40" y2="333.40" stroke="#111" stroke-width="1.25" />
<line x1="247.40" y1="317.50" x2="251.40" y2="317.50" stroke="#111" stroke-width="1.2" />
<line x1="247.40" y1="333.40" x2="251.40" y2="333.40" stroke="#111" stroke-width="1.2" />
<polygon points="249.40,325.20 248.00,327.70 250.80,327.70" fill="#111"/>
<line x1="280.10" y1="324.30" x2="280.10" y2="343.10" stroke="#111" stroke-width="1.25" />
<line x1="278.10" y1="324.30" x2="282.10" y2="324.30" stroke="#111" stroke-width="1.2" />
<line x1="278.10" y1="343.10" x2="282.10" y2="343.10" stroke="#111" stroke-width="1.2" />
<polygon points="280.10,332.50 278.70,335.00 281.50,335.00" fill="#111"/>
<line x1="341.20" y1="337.60" x2="341.20" y2="355.00" stroke="#111" stroke-width="1.25" />
<line x1="339.20" y1="337.60" x2="343.20" y2="337.60" stroke="#111" stroke-width="1.2" />
<line x1="339.20" y1="355.00" x2="343.20" y2="355.00" stroke="#111" stroke-width="1.2" />
<polygon points="341.20,344.50 339.80,347.00 342.60,347.00" fill="#111"/>
</g>
<polyline points="346.80,313.70 350.50,313.70 350.50,345.40 346.80,345.40" stroke="#111" stroke-width="1.4" fill="none" />
<circle cx="358.70" cy="325.20" r="1.35" fill="#222" stroke="none" stroke-width="0"/>
<circle cx="358.70" cy="330.90" r="1.35" fill="#222" stroke="none" stroke-width="0"/>
<line x1="331.20" y1="288.20" x2="340.60" y2="288.20" stroke="#444" stroke-width="1.0" />
<polygon points="335.7,286.4 334.1,289.3 337.3,289.3" fill="#fff" stroke="#444" stroke-width="0.8"/>
<text x="345.30" y="290.40" font-size="6.0" text-anchor="start" font-weight="normal" fill="#111" stroke="#111" stroke-width="0.18">K1</text>
<line x1="331.20" y1="296.90" x2="340.60" y2="296.90" stroke="#111" stroke-width="1.5" />
<circle cx="335.70" cy="296.90" r="1.7" fill="#fff" stroke="#111" stroke-width="1.2"/>
<text x="345.30" y="299.10" font-size="6.0" text-anchor="start" font-weight="normal" fill="#111" stroke="#111" stroke-width="0.18">WT</text>
<line x1="331.00" y1="305.60" x2="333.00" y2="305.60" stroke="#111" stroke-width="1.3" />
<line x1="338.60" y1="305.60" x2="340.60" y2="305.60" stroke="#111" stroke-width="1.3" />
<polygon points="335.7,303.9 334.0,306.9 337.4,306.9" fill="#111"/>
<text x="345.30" y="307.80" font-size="6.0" text-anchor="start" font-weight="normal" fill="#111" stroke="#111" stroke-width="0.18">WT + pristane</text>
</svg>
</body></html>
